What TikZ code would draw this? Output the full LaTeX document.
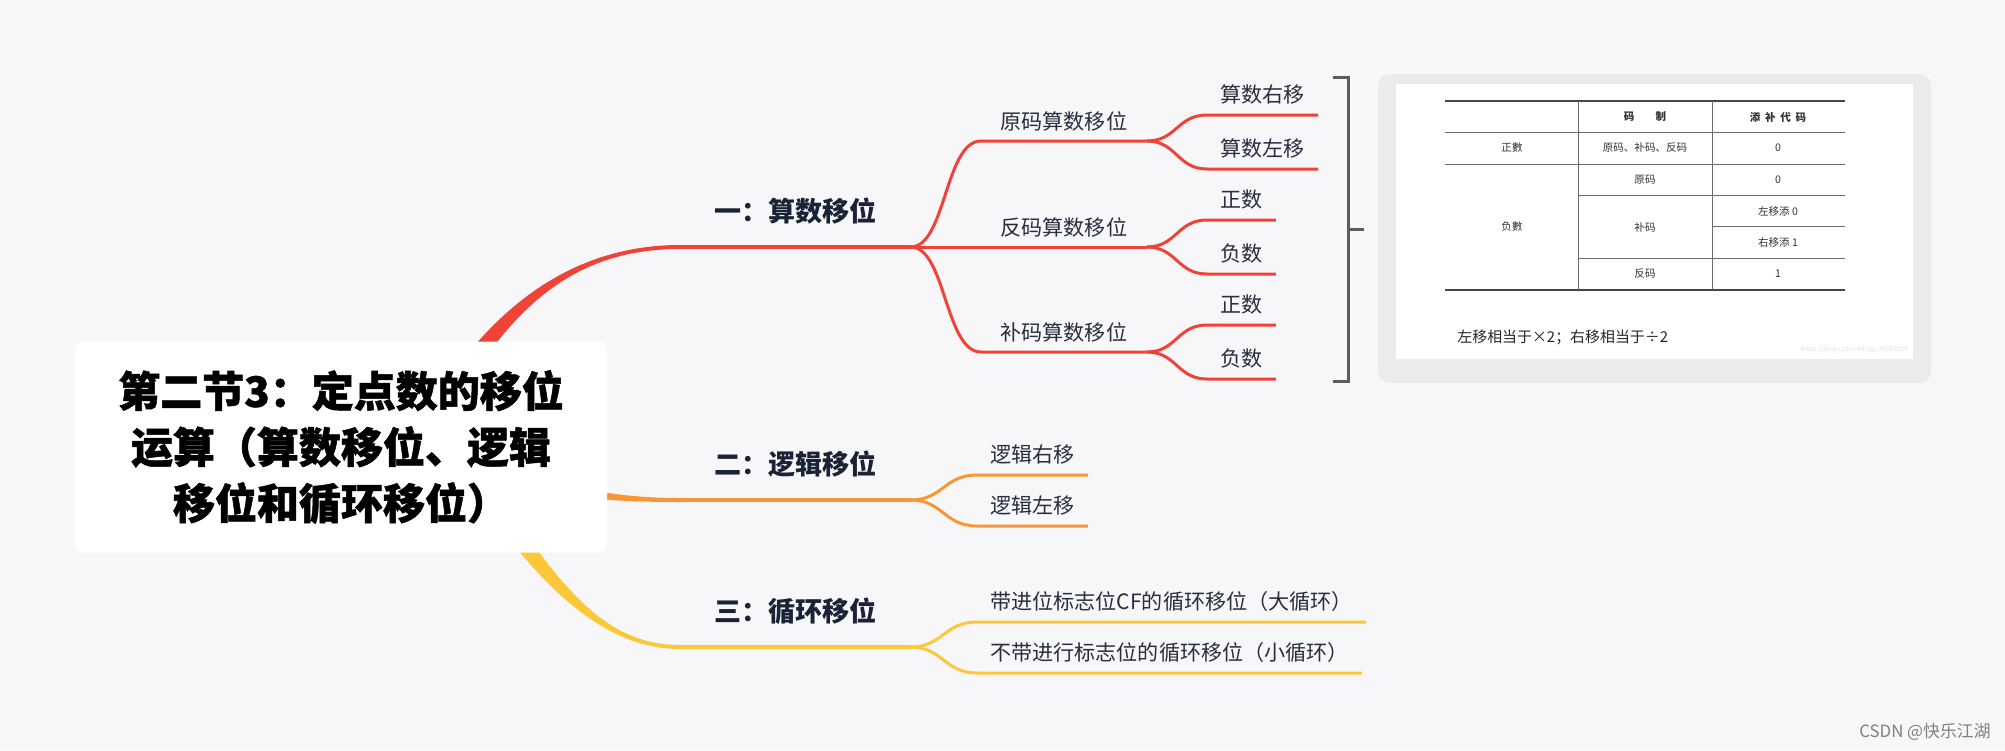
\documentclass[tikz,border=0pt]{standalone}
\usepackage{fontspec}
\setmainfont{Noto Sans CJK SC}
\newfontfamily\heavyfont[FakeBold=1.2]{Noto Sans CJK SC}
\usepackage{xcolor}
\usepackage{tikz}
\usetikzlibrary{calc}
\definecolor{cbg}{RGB}{247,247,249}
\definecolor{cred}{RGB}{240,67,56}
\definecolor{corange}{RGB}{247,151,52}
\definecolor{cyellow}{RGB}{253,199,58}
\definecolor{cnavy}{RGB}{26,34,54}
\definecolor{ctext}{RGB}{40,46,62}
\definecolor{cpanel}{RGB}{235,235,235}
\definecolor{cbracket}{RGB}{92,92,92}
\definecolor{ctab}{RGB}{70,70,70}
\tikzset{
  rootbox/.style={rectangle, fill=white, rounded corners=1.6mm,
    minimum width=106.4mm, minimum height=42.2mm, align=center,
    font=\fontsize{23.9}{31.9}\selectfont\heavyfont\bfseries, text=black},
  topic/.style={anchor=south west, minimum width=46mm, inner xsep=0pt,
    inner ysep=4.3mm, text height=4.75mm, text depth=0.65mm,
    font=\fontsize{15.4}{18}\selectfont\bfseries, text=cnavy},
  sub/.style={anchor=south west, minimum width=33mm, inner xsep=0pt,
    inner ysep=1.8mm, text height=3.7mm, text depth=0.5mm,
    font=\fontsize{12}{14}\selectfont, text=ctext},
  leaf/.style={anchor=south west, inner xsep=2.6mm,
    inner ysep=1.9mm, text height=3.7mm, text depth=0.5mm,
    font=\fontsize{12}{14}\selectfont, text=ctext},
  topicline/.style={line width=0.8mm},
  subline/.style={line width=0.6mm},
  tabtext/.style={font=\fontsize{6}{7}\selectfont, text=black!80, inner sep=1pt},
  tabthick/.style={draw=ctab, line width=0.32mm},
  tabthin/.style={draw=ctab!80, line width=0.2mm}
}

\begin{document}
\begin{tikzpicture}[x=0.2mm, y=-0.2mm]
  \fill[cbg] (0,0) rectangle (2005,750);
  \useasboundingbox (0,0) rectangle (2005,750);

  % ── Branch origins and ends ──────────────────────────────────────────────
  \coordinate (o1) at (420,447);
  \coordinate (o2) at (440,450);
  \coordinate (o3) at (460,450);
  \coordinate (b1) at (680,247);
  \coordinate (b2) at (680,500);
  \coordinate (b3) at (680,647);

  % Tapered main branches (drawn under the root box)
  \fill[cred] ($(o1)+(-12,0)$) .. controls ($(o1)+(58,-137)$) and ($(b1)+(-110,-2)$) .. ($(b1)+(0,-2)$)
    -- ($(b1)+(0,2)$) .. controls ($(b1)+(-110,2)$) and ($(o1)+(82,-137)$) .. ($(o1)+(12,0)$) -- cycle;
  \fill[corange] ($(o2)+(0,-8)$) .. controls ($(o2)+(100,32)$) and ($(b2)+(-80,-2)$) .. ($(b2)+(0,-2)$)
    -- ($(b2)+(0,2)$) .. controls ($(b2)+(-80,2)$) and ($(o2)+(100,48)$) .. ($(o2)+(0,8)$) -- cycle;
  \fill[cyellow] ($(o3)+(-12,0)$) .. controls ($(o3)+(68,130)$) and ($(b3)+(-80,2)$) .. ($(b3)+(0,2)$)
    -- ($(b3)+(0,-2)$) .. controls ($(b3)+(-80,-2)$) and ($(o3)+(92,130)$) .. ($(o3)+(12,0)$) -- cycle;

  % Root
  \node[rootbox] (root) at (341,447) {第二节3：定点数的移位\\运算（算数移位、逻辑\\移位和循环移位）};

  % ── Topics ───────────────────────────────────────────────────────────────
  \node[topic] (t1) at (b1) {一：算数移位};
  \node[topic] (t2) at (b2) {二：逻辑移位};
  \node[topic] (t3) at (b3) {三：循环移位};
  \draw[cred, topicline] (t1.south west) -- (t1.south east);
  \draw[corange, topicline] (t2.south west) -- (t2.south east);
  \draw[cyellow, topicline] (t3.south west) -- (t3.south east);

  % ── 算数移位 subtree ────────────────────────────────────────────────────
  \node[sub] (s1) at (981,141) {原码算数移位};
  \node[sub] (s2) at (981,247) {反码算数移位};
  \node[sub] (s3) at (981,352) {补码算数移位};
  \node[leaf] (l1) at (1207,115) {算数右移};
  \node[leaf] (l2) at (1207,169) {算数左移};
  \node[leaf] (l3) at (1207,220) {正数};
  \node[leaf] (l4) at (1207,274) {负数};
  \node[leaf] (l5) at (1207,325) {正数};
  \node[leaf] (l6) at (1207,379) {负数};
  \foreach \s in {s1,s2,s3}
    \draw[cred, subline] (t1.south east) .. controls +(35,0) and +(-36,0) .. (\s.south west) -- (\s.south east);
  \foreach \s/\a/\b in {s1/l1/l2, s2/l3/l4, s3/l5/l6} {
    \draw[cred, subline] (\s.south east) .. controls +(30,0) and +(-30,0) .. (\a.south west) -- (\a.south east);
    \draw[cred, subline] (\s.south east) .. controls +(30,0) and +(-30,0) .. (\b.south west) -- (\b.south east);
  }

  % ── 逻辑移位 / 循环移位 leaves ───────────────────────────────────────────
  \node[leaf] (g1) at (977,475) {逻辑右移};
  \node[leaf] (g2) at (977,526) {逻辑左移};
  \node[leaf] (c1) at (977,622) {带进位标志位CF的循环移位（大循环）};
  \node[leaf] (c2) at (977,673) {不带进行标志位的循环移位（小循环）};
  \foreach \a in {g1,g2}
    \draw[corange, subline] (t2.south east) .. controls +(32,0) and +(-33,0) .. (\a.south west) -- (\a.south east);
  \foreach \a in {c1,c2}
    \draw[cyellow, subline] (t3.south east) .. controls +(32,0) and +(-33,0) .. (\a.south west) -- (\a.south east);

  % ── Bracket ──────────────────────────────────────────────────────────────
  \draw[cbracket, line width=0.6mm] (1333,77) -- (1348,77) -- (1348,381) -- (1333,381);
  \draw[cbracket, line width=0.6mm] (1348,229) -- (1364,229);

  % ── Image panel with table ───────────────────────────────────────────────
  \fill[cpanel, rounded corners=2.4mm] (1378,74) rectangle (1931,383);
  \fill[white] (1396,84) rectangle (1913,359);
  \draw[tabthick] (1445,101) -- (1845,101);
  \draw[tabthick] (1445,290) -- (1845,290);
  \foreach \xa/\ya in {1445/132, 1445/164, 1578/195, 1712/226, 1578/258}
    \draw[tabthin] (\xa,\ya) -- (1845,\ya);
  \foreach \xa in {1578,1712}
    \draw[tabthin] (\xa,101) -- (\xa,290);
  \node[tabtext, font=\fontsize{6}{7}\selectfont\bfseries] (h1) at (1645,117) {码\hspace{2em}制};
  \node[tabtext, font=\fontsize{6}{7}\selectfont\bfseries] (h2) at (1778,117) {添\hspace{0.45em}补\hspace{0.45em}代\hspace{0.45em}码};
  \node[tabtext] (a1) at (1512,148) {正數};
  \node[tabtext] (a2) at (1645,148) {原码、补码、反码};
  \node[tabtext] (a3) at (1778,148) {0};
  \node[tabtext] (b2t) at (1645,180) {原码};
  \node[tabtext] (b3t) at (1778,180) {0};
  \node[tabtext] (n1) at (1512,227) {负數};
  \node[tabtext] (n2) at (1645,227) {补码};
  \node[tabtext] (n3) at (1778,212) {左移添 0};
  \node[tabtext] (n4) at (1778,243) {右移添 1};
  \node[tabtext] (f2) at (1645,274) {反码};
  \node[tabtext] (f3) at (1778,274) {1};
  \node[anchor=west, font=\fontsize{8.5}{10}\selectfont, text=black!85, inner sep=0pt] (cap) at (1457,337) {左移相当于×2；右移相当于÷2};
  \node[anchor=east, font=\fontsize{3.7}{4}\selectfont, text=black!12, inner sep=0pt] (wm) at (1908,350) {https://blog.csdn.net/qq\_39183034};

  % Watermark
  \node[anchor=east, font=\fontsize{9.6}{11}\selectfont, text=black!50, inner sep=0pt] (csdn) at (1991,732) {CSDN @快乐江湖};
\end{tikzpicture}
\end{document}
